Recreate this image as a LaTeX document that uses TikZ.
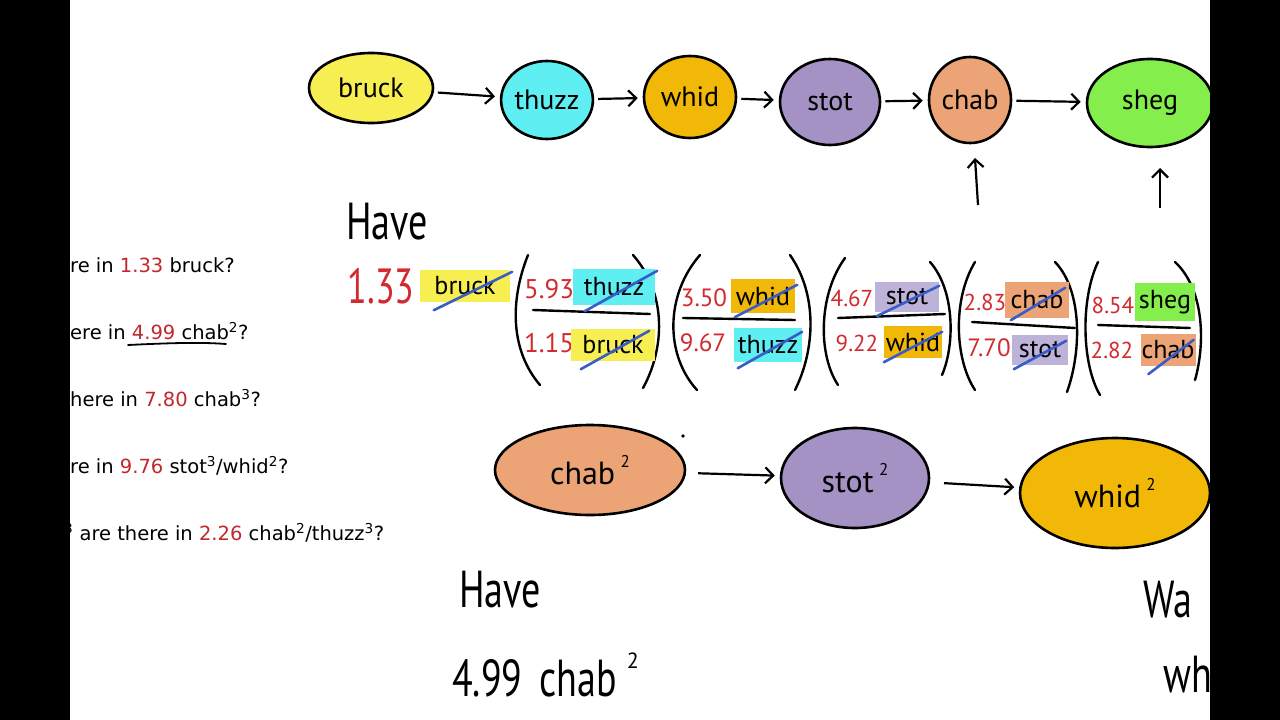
\documentclass[tikz,border=0pt]{standalone}
\usepackage{fontspec}
\setmainfont{PT Sans}
\newfontfamily\qfont{DejaVu Sans}
\usetikzlibrary{shapes.geometric,arrows.meta,calc}
\definecolor{cbruck}{HTML}{F7EF52}
\definecolor{cthuzz}{HTML}{5FEFF2}
\definecolor{cwhid}{HTML}{F2B807}
\definecolor{cstot}{HTML}{A592C4}
\definecolor{cstotl}{HTML}{BDB2D8}
\definecolor{cchab}{HTML}{ECA477}
\definecolor{csheg}{HTML}{84EE4C}
\definecolor{redink}{HTML}{D22A2E}
\definecolor{qred}{HTML}{C1272D}
\definecolor{blueink}{HTML}{3A5CC6}
\newcommand\mysq[1]{\,\raisebox{0.55em}{\fontsize{17}{17}\selectfont #1}}
\newcommand\tall[1]{\scalebox{0.95}[1.3]{#1}}
\tikzset{
  blob/.style={ellipse, draw=black, line width=2.6pt, inner sep=0pt, font=\fontsize{28}{30}\selectfont},
  arr/.style={line width=2.2pt, -{Straight Barb[length=8pt,width=16pt,line width=2.2pt]}, shorten <=4pt, shorten >=5pt},
  hl/.style={fill=#1, inner sep=1pt, font=\fontsize{26}{28}\selectfont, minimum height=32pt},
  num/.style={text=redink, font=\fontsize{25}{27}\selectfont, inner sep=0pt},
  strike/.style={draw=blueink, line width=2.6pt, line cap=round},
  paren/.style={line width=2.4pt, line cap=round},
  frline/.style={line width=2.4pt, line cap=round},
  hand/.style={font=\fontsize{40}{44}\selectfont, inner sep=0pt},
  quest/.style={font=\qfont\fontsize{19.5}{22}\selectfont, anchor=west, inner sep=0pt}
}
\begin{document}
\begin{tikzpicture}[x=1pt,y=-1pt]
\useasboundingbox (0,0) rectangle (1280,720);
\fill[white] (0,0) rectangle (1280,720);

% top chain
\node[blob, fill=cbruck, minimum width=124, minimum height=70] (bruck) at (371,88) {bruck};
\node[blob, fill=cthuzz, minimum width=86, minimum height=78] (thuzz) at (547,100) {thuzz};
\node[blob, fill=cwhid, minimum width=92, minimum height=82] (whid) at (690,97) {whid};
\node[blob, fill=cstot, minimum width=100, minimum height=86] (stot) at (830,102) {stot};
\node[blob, fill=cchab, minimum width=82, minimum height=86] (chab) at (970,100) {chab};
\node[blob, fill=csheg, minimum width=126, minimum height=88] (sheg) at (1150,103) {sheg};
\draw[arr] (bruck) -- (thuzz);
\draw[arr] (thuzz) -- (whid);
\draw[arr] (whid) -- (stot);
\draw[arr] (stot) -- (chab);
\draw[arr] (chab) -- (sheg);
\coordinate (u1a) at (978,205); \coordinate (u1b) at (975,158);
\coordinate (u2a) at (1160,208); \coordinate (u2b) at (1160,168);
\draw[arr, shorten <=0pt, shorten >=0pt] (u1a) -- (u1b);
\draw[arr, shorten <=0pt, shorten >=0pt] (u2a) -- (u2b);

% Have
\node[hand] (have1) at (387,222) {\tall{Have}};

% questions
\node[quest] (q1) at (70,265) {re in \textcolor{qred}{1.33} bruck?};
\node[quest] (q2) at (70,331) {ere in \textcolor{qred}{4.99} chab\textsuperscript{2}?};
\draw[line width=1.8pt, line cap=round] (128,345) .. controls (170,343) and (200,342) .. (226,344);
\node[quest] (q3) at (70,398) {here in \textcolor{qred}{7.80} chab\textsuperscript{3}?};
\node[quest] (q4) at (70,466) {re in \textcolor{qred}{9.76} stot\textsuperscript{3}/whid\textsuperscript{2}?};
\node[quest] (q5) at (64,533) {\textsuperscript{3} are there in \textcolor{qred}{2.26} chab\textsuperscript{2}/thuzz\textsuperscript{3}?};

% 1.33 bruck
\node[num, font=\fontsize{38}{40}\selectfont] (n0) at (381,286) {\tall{1.33}};
\node[hl=cbruck, minimum width=90] (w0) at (465,286) {bruck};
\draw[strike] ([shift={(14,8)}]w0.south west) -- ([shift={(2,2)}]w0.north east);

% fraction 1
\draw[paren] (528,255) .. controls (510,300) and (510,350) .. (540,385);
\draw[paren] (633,255) .. controls (668,295) and (664,350) .. (643,388);
\node[num, font=\fontsize{27}{28}\selectfont] (f1a) at (549,289) {5.93};
\node[hl=cthuzz, minimum width=82, minimum height=36] (f1b) at (614,287) {thuzz};
\draw[frline] (533,310) -- (650,314);
\node[num, font=\fontsize{27}{28}\selectfont] (f1c) at (549,343) {1.15};
\node[hl=cbruck, minimum width=84] (f1d) at (613,345) {bruck};
\draw[strike] ([shift={(12,6)}]f1b.south west) -- ([shift={(2,2)}]f1b.north east);
\draw[strike] ([shift={(10,8)}]f1d.south west) -- ([shift={(-6,2)}]f1d.north east);

% fraction 2
\draw[paren] (700,255) .. controls (665,295) and (665,355) .. (697,390);
\draw[paren] (790,255) .. controls (818,295) and (815,350) .. (795,390);
\node[num] (f2a) at (704,298) {3.50};
\node[hl=cwhid, minimum width=64, minimum height=34] (f2b) at (763,296) {whid};
\draw[frline] (683,318) -- (795,320);
\node[num] (f2c) at (703,343) {9.67};
\node[hl=cthuzz, minimum width=68, minimum height=34] (f2d) at (768,345) {thuzz};
\draw[strike] ([shift={(4,4)}]f2b.south west) -- ([shift={(2,6)}]f2b.north east);
\draw[strike] ([shift={(4,6)}]f2d.south west) -- ([shift={(0,4)}]f2d.north east);

% fraction 3
\draw[paren] (845,258) .. controls (818,295) and (818,355) .. (838,385);
\draw[paren] (930,262) .. controls (955,290) and (955,345) .. (942,375);
\node[num, font=\fontsize{23}{25}\selectfont] (f3a) at (852,298) {4.67};
\node[hl=cstotl, minimum width=64, minimum height=30] (f3b) at (907,297) {stot};
\draw[frline] (838,318) -- (945,314);
\node[num, font=\fontsize{23}{25}\selectfont] (f3c) at (857,343) {9.22};
\node[hl=cwhid, minimum width=58, minimum height=32] (f3d) at (913,342) {whid};
\draw[strike] ([shift={(2,4)}]f3b.south west) -- ([shift={(0,4)}]f3b.north east);
\draw[strike] ([shift={(0,4)}]f3d.south west) -- ([shift={(0,6)}]f3d.north east);

% fraction 4
\draw[paren] (975,262) .. controls (952,300) and (955,360) .. (975,390);
\draw[paren] (1055,262) .. controls (1082,290) and (1082,350) .. (1067,392);
\node[num, font=\fontsize{23}{25}\selectfont] (f4a) at (985,302) {2.83};
\node[hl=cchab, minimum width=64, minimum height=36] (f4b) at (1037,300) {chab};
\draw[frline] (972,322) -- (1075,328);
\node[num] (f4c) at (989,348) {7.70};
\node[hl=cstotl, minimum width=56, minimum height=30] (f4d) at (1040,350) {stot};
\draw[strike] ([shift={(6,2)}]f4b.south west) -- ([shift={(-4,6)}]f4b.north east);
\draw[strike] ([shift={(2,4)}]f4d.south west) -- ([shift={(-2,6)}]f4d.north east);

% fraction 5
\draw[paren] (1098,262) .. controls (1080,300) and (1082,365) .. (1100,395);
\draw[paren] (1175,262) .. controls (1205,290) and (1205,345) .. (1195,380);
\node[num, font=\fontsize{23}{25}\selectfont] (f5a) at (1113,305) {8.54};
\node[hl=csheg, minimum width=60, minimum height=38] (f5b) at (1165,302) {sheg};
\draw[frline] (1098,325) -- (1190,328);
\node[num, font=\fontsize{23}{25}\selectfont] (f5c) at (1112,350) {2.82};
\node[hl=cchab, minimum width=55, minimum height=32] (f5d) at (1168,350) {chab};
\draw[strike] ([shift={(8,8)}]f5d.south west) -- ([shift={(-2,6)}]f5d.north east);

% bottom chain
\node[blob, fill=cchab, minimum width=190, minimum height=90, font=\fontsize{32}{34}\selectfont] (chab2) at (590,470) {chab\mysq{2}};
\node[blob, fill=cstot, minimum width=148, minimum height=100, font=\fontsize{32}{34}\selectfont] (stot2) at (855,478) {stot\mysq{2}};
\node[blob, fill=cwhid, minimum width=190, minimum height=110, font=\fontsize{32}{34}\selectfont] (whid2) at (1115,493) {whid\mysq{2}};
\draw[arr, shorten <=12pt] (chab2) -- (stot2);
\draw[arr, shorten <=14pt] (stot2) -- (whid2);
\fill (683,436) circle (1.8);

% Have / Want
\node[hand] (have2) at (500,590) {\tall{Have}};
\node[hand, anchor=west] (have3) at (452,675) {\tall{4.99\hspace{18pt}chab}\hspace{10pt}\raisebox{0.7em}{\fontsize{22}{22}\selectfont 2}};
\node[hand, anchor=west] (want1) at (1143,600) {\tall{Wa}};
\node[hand, anchor=west] (want2) at (1163,675) {\tall{wh}};

% black bars
\fill[black] (0,0) rectangle (70,720);
\fill[black] (1210,0) rectangle (1280,720);
\end{tikzpicture}
\end{document}
